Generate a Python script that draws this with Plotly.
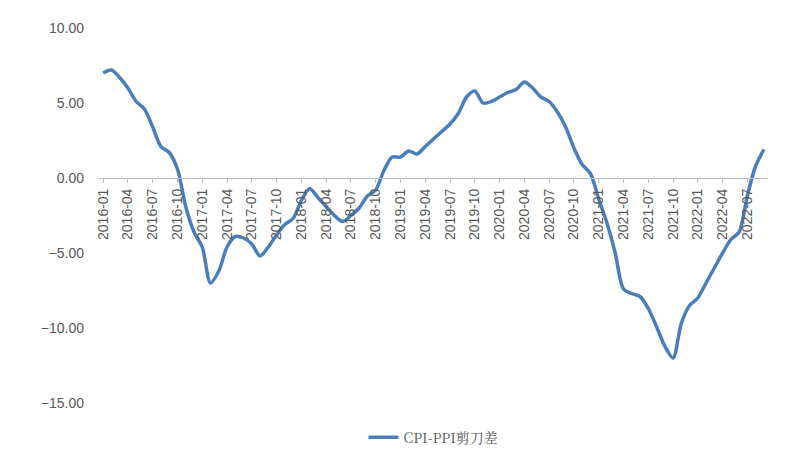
import plotly.graph_objects as go

months = [f"{2016 + i // 12}-{i % 12 + 1:02d}" for i in range(81)]
values = [7.0, 7.2, 6.7, 6.0, 5.1, 4.6, 3.4, 2.1, 1.7, 0.6, -1.9, -3.6,
          -4.6, -7.0, -6.2, -4.6, -3.9, -4.0, -4.4, -5.2, -4.6, -3.8, -3.1, -2.7,
          -1.5, -0.7, -1.3, -1.9, -2.5, -2.9, -2.5, -2.0, -1.2, -0.8, 0.5, 1.4,
          1.4, 1.8, 1.6, 2.1, 2.6, 3.1, 3.6, 4.3, 5.4, 5.8, 5.0, 5.1,
          5.4, 5.7, 5.9, 6.4, 6.0, 5.4, 5.1, 4.4, 3.4, 2.0, 0.9, 0.3,
          -1.4, -3.0, -5.0, -7.4, -7.7, -7.9, -8.7, -9.9, -11.2, -12.0, -9.7, -8.5,
          -8.0, -7.0, -6.0, -5.0, -4.1, -3.6, -1.2, 0.8, 1.9]
tick_labels = months[::3]
y_ticks = [-15, -10, -5, 0, 5, 10]

fig = go.Figure(go.Scatter(x=months, y=values, mode="lines", name="CPI-PPI剪刀差",
                           line=dict(color="#4a7ebb", width=3.5, shape="spline", smoothing=0.8)))
fig.update_layout(
    width=800, height=458, plot_bgcolor="white", paper_bgcolor="white",
    margin=dict(l=91, r=40, t=20, b=56),
    font=dict(family="Liberation Sans, Arial", size=14, color="#595959"),
    showlegend=True,
    legend=dict(orientation="h", x=0.5, xanchor="center", y=-0.05, yanchor="top",
                font=dict(family="Noto Serif CJK SC, Liberation Serif, Noto Sans CJK SC", size=14, color="#595959")),
    xaxis=dict(type="category", range=[-0.5, 80.5], tickmode="array", tickvals=tick_labels,
               ticktext=tick_labels, tickangle=-90, anchor="free", position=0.6,
               showline=True, linecolor="#bfbfbf", showgrid=False, ticks="outside",
               ticklen=4, tickcolor="#bfbfbf"),
    yaxis=dict(range=[-15, 10], tickvals=y_ticks, tickformat=".2f", showgrid=False,
               zeroline=False, ticklabelstandoff=14),
)
fig.write_html("out.html")
